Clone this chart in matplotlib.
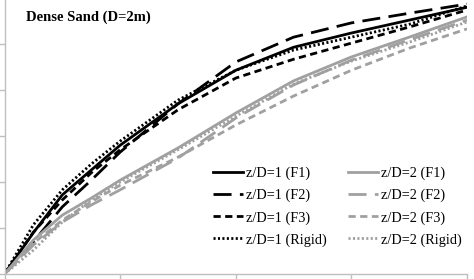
import matplotlib
matplotlib.use("Agg")
import matplotlib.pyplot as plt

plt.rcParams['font.family'] = ['Liberation Serif', 'DejaVu Serif']

x = [0, 0.25, 0.5, 0.75, 1.0, 1.5, 2.0, 2.5, 3.0, 3.5, 4.0]

z1_f1 = [0, 0.90, 1.72, 2.26, 2.80, 3.70, 4.43, 4.93, 5.24, 5.52, 5.80]
z1_f2 = [0, 0.70, 1.46, 2.04, 2.65, 3.70, 4.61, 5.15, 5.46, 5.67, 5.87]
z1_f3 = [0, 0.91, 1.61, 2.20, 2.70, 3.57, 4.26, 4.67, 5.02, 5.37, 5.74]
z1_rigid = [0, 1.07, 1.83, 2.39, 2.89, 3.78, 4.43, 4.87, 5.15, 5.43, 5.83]

z2_f1 = [0, 0.74, 1.28, 1.65, 2.04, 2.74, 3.50, 4.20, 4.72, 5.15, 5.59]
z2_f2 = [0, 0.63, 1.13, 1.50, 1.83, 2.52, 3.39, 4.11, 4.65, 5.09, 5.52]
z2_f3 = [0, 0.67, 1.17, 1.57, 1.93, 2.54, 3.24, 3.87, 4.43, 4.91, 5.33]
z2_rigid = [0, 0.52, 1.13, 1.61, 2.00, 2.70, 3.43, 4.13, 4.63, 5.04, 5.48]

labels_z1 = ["z/D=1 (F1)", "z/D=1 (F2)", "z/D=1 (F3)", "z/D=1 (Rigid)"]
labels_z2 = ["z/D=2 (F1)", "z/D=2 (F2)", "z/D=2 (F3)", "z/D=2 (Rigid)"]
title = "Dense Sand (D=2m)"

fig = plt.figure(figsize=(4.74, 2.79), dpi=100)
ax = fig.add_axes([0.0095, 0.0179, 0.9757, 0.989])

lw = 2.0
styles = [
    dict(linestyle='-'),
    dict(linestyle=(0, (6.5, 3.0))),
    dict(linestyle=(0, (2.6, 1.6))),
    dict(linestyle=(0, (0.75, 0.85)), dash_capstyle='butt'),
]
black = '#000000'
gray = '#a0a0a0'

h1, h2 = [], []
for ys, lab, st in zip([z1_f1, z1_f2, z1_f3, z1_rigid], labels_z1, styles):
    l, = ax.plot(x, ys, color=black, lw=lw, label=lab, **st)
    h1.append(l)
for ys, lab, st in zip([z2_f1, z2_f2, z2_f3, z2_rigid], labels_z2, styles):
    l, = ax.plot(x, ys, color=gray, lw=lw, label=lab, **st)
    h2.append(l)

ax.set_xlim(0, 4)
ax.set_ylim(0, 6)
ax.set_xticks([0, 1, 2, 3, 4])
ax.set_yticks([0, 1, 2, 3, 4, 5, 6])
ax.tick_params(axis='both', which='both', direction='out', length=4,
               color='#bfbfbf', labelbottom=False, labelleft=False, width=1)
for s in ['top', 'right']:
    ax.spines[s].set_visible(False)
for s in ['left', 'bottom']:
    ax.spines[s].set_color('#bfbfbf')
    ax.spines[s].set_linewidth(1)

ax.text(0.0465, 0.931, title, transform=ax.transAxes, ha='left', va='center',
        fontsize=10.5, fontweight='bold')

leg = ax.legend(h1 + h2, labels_z1 + labels_z2, ncol=2, loc='upper left',
                bbox_to_anchor=(0.451, 0.388), frameon=False, fontsize=10.3,
                borderpad=0, borderaxespad=0, handlelength=2.1,
                handletextpad=0.2, columnspacing=1.5, labelspacing=0.6)

fig.savefig("out.png", dpi=100)
